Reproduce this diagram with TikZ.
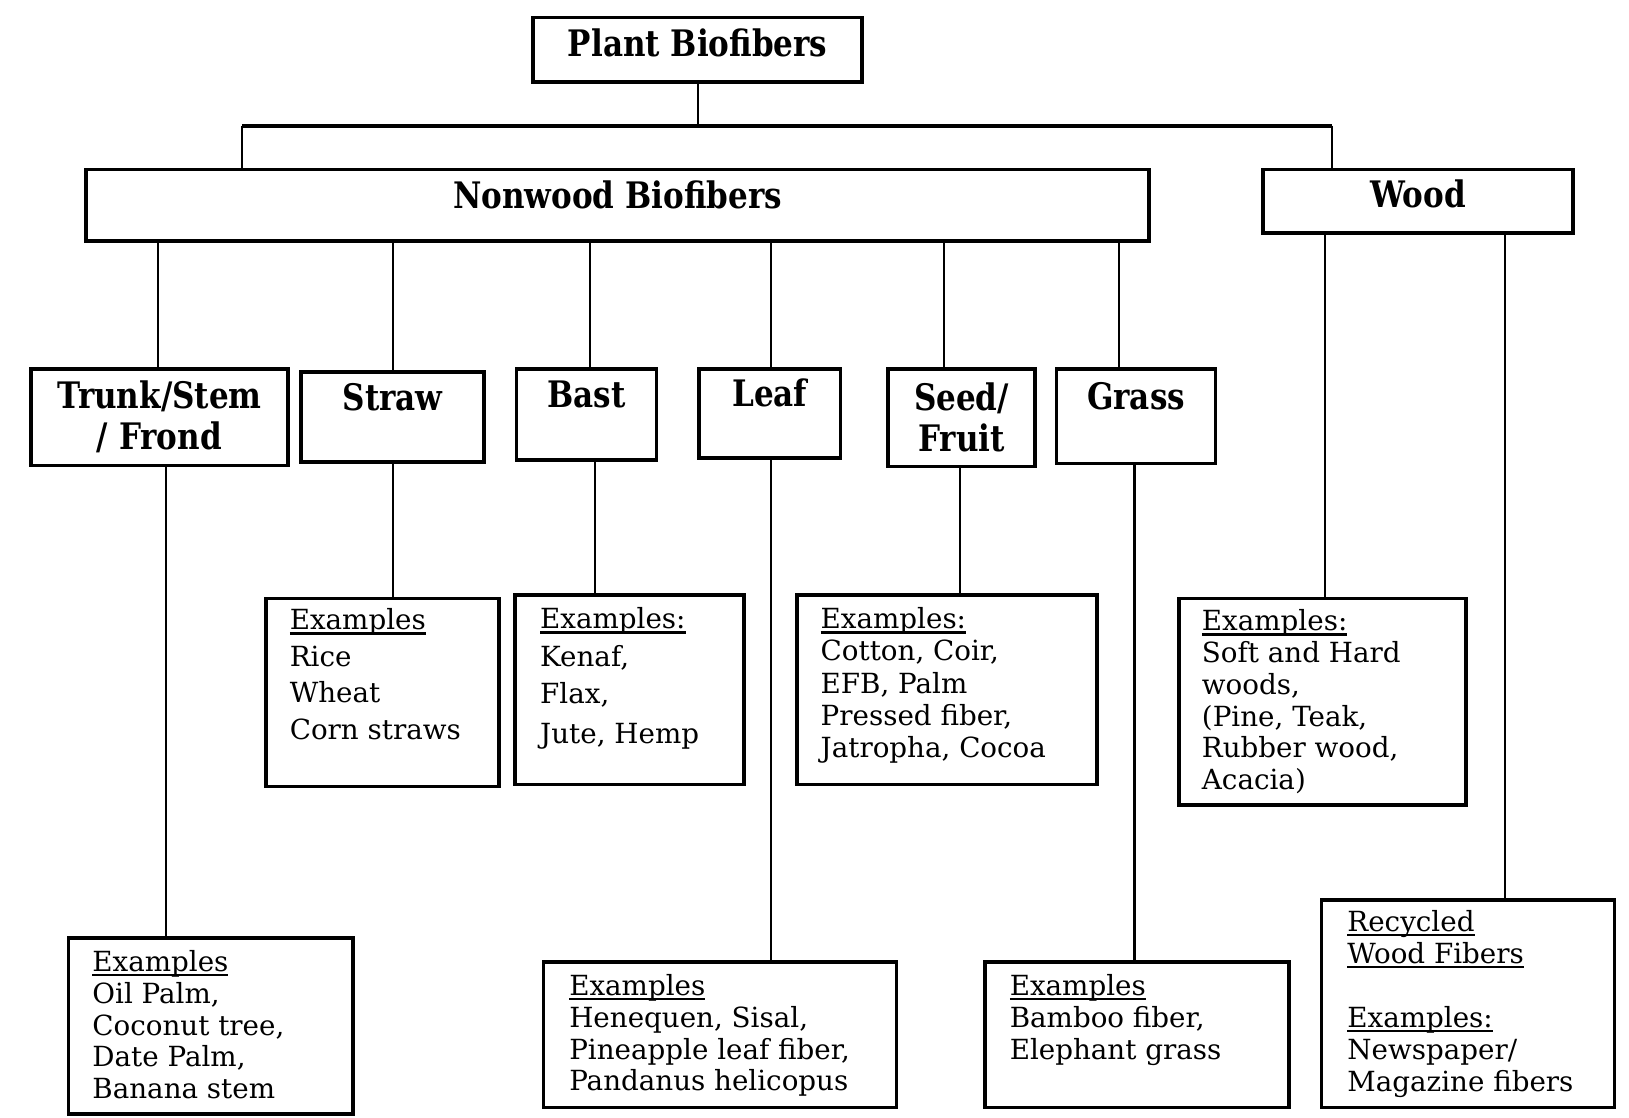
\documentclass[tikz,border=0pt]{standalone}
\usepackage{fontspec}
\setmainfont{DejaVu Serif}
\newfontfamily\headfont[FakeStretch=0.85]{DejaVu Serif}
\usetikzlibrary{positioning}
\newsavebox{\headbox}
\newcommand{\exhead}[1]{\sbox{\headbox}{#1}\usebox{\headbox}\llap{\rule[-1.3pt]{\wd\headbox}{0.6pt}}}
\tikzset{
  catbox/.style ={rectangle, draw=black, line width=1pt, inner sep=0pt, align=center,
                  font=\headfont\bfseries\fontsize{10}{11.2}\selectfont},
  exbox/.style  ={rectangle, draw=black, line width=1pt, inner sep=0pt},
  extext/.style ={inner sep=0pt, align=left, font=\fontsize{7.6}{8.7}\selectfont},
  link/.style   ={draw=black, line width=0.6pt},
  bar/.style    ={draw=black, line width=1.1pt},
}

\begin{document}
\begin{tikzpicture}[x=0.1mm, y=-0.1mm]
\useasboundingbox (0,0) rectangle (1568,1076);
% top levels
\node[catbox, text depth=4pt, minimum width=31.7mm, minimum height=6.2mm] (plant) at (671.5,48) {Plant Biofibers};
\node[catbox, text depth=6pt, minimum width=102.3mm, minimum height=6.9mm] (nonwood) at (594.5,197.5) {Nonwood Biofibers};
\node[catbox, text depth=4pt, minimum width=29.8mm, minimum height=6.1mm] (wood) at (1365,193.5) {Wood};
% nonwood groups
\node[catbox, minimum width=24.7mm, minimum height=9.3mm] (trunk) at (153.5,401.5) {Trunk/Stem\\/ Frond};
\node[catbox, minimum width=17.6mm, minimum height=8.7mm] (straw) at (378,401.5) {Straw\\~};
\node[catbox, minimum width=13.5mm, minimum height=8.8mm] (bast) at (564.5,399) {Bast\\~};
\node[catbox, minimum width=13.6mm, minimum height=8.6mm] (leaf) at (741,398) {Leaf\\~};
\node[catbox, minimum width=14.1mm, minimum height=9.4mm] (seed) at (925.5,402) {Seed/\\Fruit};
\node[catbox, minimum width=15.3mm, minimum height=9.1mm] (grass) at (1093.5,400.5) {Grass\\~};
% example boxes
\node[exbox, minimum width=27.4mm, minimum height=16.9mm] (trunkEx) at (203,987.5) {};
\node[exbox, minimum width=22.4mm, minimum height=18.1mm] (strawEx) at (368,666.5) {};
\node[exbox, minimum width=22.0mm, minimum height=18.2mm] (bastEx) at (606,664) {};
\node[exbox, minimum width=34.0mm, minimum height=14.0mm] (leafEx) at (693,996) {};
\node[exbox, minimum width=28.9mm, minimum height=18.2mm] (seedEx) at (911.5,664) {};
\node[exbox, minimum width=29.3mm, minimum height=14.0mm] (grassEx) at (1094.5,996) {};
\node[exbox, minimum width=27.6mm, minimum height=19.9mm] (woodEx) at (1273,675.5) {};
\node[exbox, minimum width=28.2mm, minimum height=20.0mm] (recyc) at (1413,966) {};
% texts of the examples
\node[extext, below right=1.3mm and 2.4mm of trunkEx.north west] (trunkTx)
  {\exhead{Examples}\\Oil Palm,\\Coconut tree,\\Date Palm,\\Banana stem};
\node[extext, font=\fontsize{7.6}{10}\selectfont, below right=1.1mm and 2.4mm of strawEx.north west] (strawTx)
  {\exhead{Examples}\\Rice\\Wheat\\Corn straws};
\node[extext, font=\fontsize{7.6}{10.2}\selectfont, below right=1.3mm and 2.5mm of bastEx.north west] (bastTx)
  {\exhead{Examples:}\\Kenaf,\\Flax,\\[0.8pt]Jute, Hemp};
\node[extext, below right=1.3mm and 2.6mm of leafEx.north west] (leafTx)
  {\exhead{Examples}\\Henequen, Sisal,\\Pineapple leaf fiber,\\Pandanus helicopus};
\node[extext, font=\fontsize{7.6}{8.8}\selectfont, below right=1.3mm and 2.4mm of seedEx.north west] (seedTx)
  {\exhead{Examples:}\\Cotton, Coir,\\EFB, Palm\\Pressed fiber,\\Jatropha, Cocoa};
\node[extext, font=\fontsize{7.6}{8.8}\selectfont, below right=1.3mm and 2.5mm of grassEx.north west] (grassTx)
  {\exhead{Examples}\\Bamboo fiber,\\Elephant grass};
\node[extext, below right=1.2mm and 2.3mm of woodEx.north west] (woodTx)
  {\exhead{Examples:}\\Soft and Hard\\woods,\\(Pine, Teak,\\Rubber wood,\\Acacia)};
\node[extext, font=\fontsize{7.6}{8.8}\selectfont, below right=1.1mm and 2.6mm of recyc.north west] (recycTx)
  {\exhead{Recycled}\\\exhead{Wood Fibers}\\[8.8pt]\exhead{Examples:}\\Newspaper/\\Magazine fibers};
% tree lines
\coordinate (barL) at (233,121);
\coordinate (barR) at (1282,121);
\draw[link] (plant.south) -- (plant.south |- barL);
\draw[bar] (barL) -- (barR);
\draw[link] (barL) -- (barL |- nonwood.north);
\draw[link] (barR) -- (barR |- wood.north);
\foreach \nm/\ex/\xa/\xb in {trunk/trunkEx/152/160, straw/strawEx/378/378, bast/bastEx/568/573,
                              leaf/leafEx/742/742, seed/seedEx/909/924, grass/grassEx/1077/1092}{
  \draw[link] (\xa,0 |- nonwood.south) -- (\xa,0 |- \nm.north);
  \draw[link] (\xb,0 |- \nm.south) -- (\xb,0 |- \ex.north);
}
\draw[link] (1275,0 |- wood.south) -- (1275,0 |- woodEx.north);
\draw[link] (1449,0 |- wood.south) -- (1449,0 |- recyc.north);
\end{tikzpicture}
\end{document}
